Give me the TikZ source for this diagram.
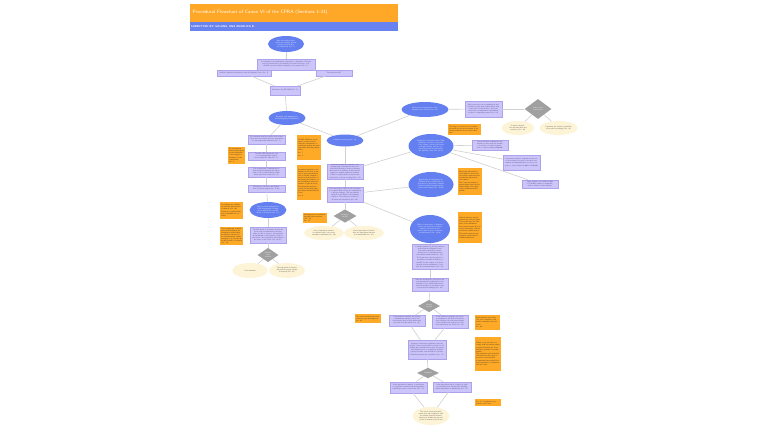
\documentclass[tikz,border=0pt]{standalone}
\usetikzlibrary{shapes.geometric}
\renewcommand{\familydefault}{\sfdefault}
\definecolor{hdr}{RGB}{255,167,38}
\definecolor{hdrB}{RGB}{104,130,240}
\definecolor{ellB}{RGB}{100,128,240}
\definecolor{lav}{RGB}{204,197,250}
\definecolor{lavD}{RGB}{172,162,236}
\definecolor{noteO}{RGB}{255,170,38}
\definecolor{crmY}{RGB}{253,243,214}
\definecolor{diaG}{RGB}{160,160,160}
\definecolor{edgeG}{RGB}{208,208,208}
\definecolor{txtD}{RGB}{70,60,120}
\begin{document}
\begin{tikzpicture}[x=1pt,y=-1pt,
 tx/.style={font=\fontsize{1.7}{2.05}\selectfont, align=center, inner sep=0.5pt},
 ell/.style={tx, ellipse, fill=ellB, text=white},
 box/.style={tx, rectangle, fill=lav, draw=lavD, line width=0.25pt, text=txtD},
 note/.style={tx, rectangle, fill=noteO, text=black!85, align=left, anchor=north west, inner sep=1pt},
 dia/.style={tx, diamond, fill=diaG, text=white, inner sep=0pt},
 crm/.style={tx, ellipse, fill=crmY, text=black!75},
 ln/.style={draw=edgeG, line width=0.6pt}]
\useasboundingbox (0,0) rectangle (768,431);
\fill[white] (0,0) rectangle (768,431);
% header
\fill[hdr] (190,4) rectangle (398,22);
\fill[hdrB] (190,22) rectangle (398,30.5);
\node[anchor=west, text=white, inner sep=0, font=\fontsize{4.75}{5}\selectfont] (title) at (192.5,12.5) {Procedural Flowchart of Canon VI of the CPRA (Sections 1-33)};
\node[anchor=west, text=white, inner sep=0, font=\fontsize{2.75}{3}\selectfont\bfseries] (sub) at (191,26.2) {SUBMITTED BY: GALANG, ANA ANGELICA B.};

% top part
\node[ell, minimum width=36, minimum height=16, text width=24] (e1) at (286,44) {Who may institute disciplinary proceedings against lawyers and how they are commenced (Sec. 1)};
\node[box, minimum width=58, minimum height=10.5, text width=55] (b1) at (286,64.5) {Proceedings for the disbarment, suspension or discipline of lawyers may be commenced by the Supreme Court motu proprio, or by the IBP upon the verified complaint of any person (Sec. 1).};
\node[box, minimum width=54, minimum height=6, text width=51] (b2) at (244,73) {Verified complaint filed directly with the Supreme Court (Sec. 2)};
\node[box, minimum width=36, minimum height=6, text width=33] (b3) at (334,73) {Filed with the IBP};
\node[box, minimum width=30, minimum height=8.5, text width=27] (b4) at (285,90.5) {Referral to the IBP-CBD (Sec. 3)};
\node[ell, minimum width=37, minimum height=14, text width=25] (e2) at (287,118) {Docketing and assignment to the Investigating Commissioner};

% left column
\node[box, minimum width=37, minimum height=9, text width=34] (b5) at (266.5,139.5) {The complaint shall be verified, filed in three copies and state clearly the facts complained of, with supporting affidavits (Sec. 3).};
\node[box, minimum width=37, minimum height=8, text width=34] (b6) at (266.5,156) {The IBP-CBD assigns the case to an Investigating Commissioner within five days (Sec. 5).};
\node[box, minimum width=37, minimum height=10, text width=34] (b7) at (266.5,172) {The Investigating Commissioner issues summons requiring the respondent to file a verified answer within thirty days from receipt (Sec. 6).};
\node[box, minimum width=37, minimum height=7, text width=34] (b8) at (266.5,188.5) {Mandatory conference and submission of position papers (Sec. 8-10).};
\node[ell, minimum width=36, minimum height=16, text width=25] (e3) at (268,210) {Report and recommendation of the Investigating Commissioner submitted to the IBP Board of Governors (Sec. 13)};
\node[box, minimum width=36, minimum height=16, text width=33] (b9) at (268,235) {The IBP Board of Governors reviews the report and recommendation and may adopt, modify or reject it. Its resolution is transmitted to the Supreme Court for final action. No resolution is final without the action of the Court (Sec. 14-15).};
\node[dia, minimum width=21, minimum height=10, text width=9] (d1) at (268,255) {Supreme Court decision};
\node[crm, minimum width=35, minimum height=15, text width=24] (c1) at (250,270.5) {Case dismissed};
\node[crm, minimum width=36, minimum height=15, text width=24] (c2) at (287,270.5) {The respondent is found liable and the proper penalty is imposed (Sec. 33)};

% notes left
\node[note, minimum width=17, minimum height=17, text width=15] (n1) at (228,147) {No investigation shall be interrupted by the withdrawal of the charges or desistance of the complainant. \\[0.6pt] Sec. 4};
\node[note, minimum width=23, minimum height=17, text width=21] (n2) at (220,202) {Proceedings are confidential until the final decision is rendered (Sec. 20). \\[0.6pt] Violation of confidentiality may be punished as contempt.};
\node[note, minimum width=23, minimum height=17, text width=21] (n3) at (220,227) {The Investigating Commissioner shall terminate the investigation within three months from the date of its commencement, unless extended for good cause by the IBP Board of Governors (Sec. 12).};
\node[note, minimum width=24, minimum height=25, text width=22] (n4) at (297,135) {The IBP-CBD may, motu proprio or upon motion, order the consolidation of complaints against the same respondent involving related issues. \\[0.6pt] Sec. 7 \\[0.6pt] Sec. 8};
\node[note, minimum width=24, minimum height=35, text width=22] (n5) at (297,165) {Preventive suspension: the Supreme Court may, on its own or upon recommendation of the IBP, suspend a lawyer from the practice of law during the pendency of the investigation when the evidence of guilt is strong. \\[0.6pt] The suspension shall not exceed one hundred eighty days unless extended by the Court. \\[0.6pt] Sec. 9};
\node[note, minimum width=24, minimum height=9, text width=22] (n6) at (303,213) {Hearings may be conducted through videoconference (Sec. 11). \\ Sec. 12};

% middle column
\node[ell, minimum width=36, minimum height=12, text width=25] (e4) at (345,140.5) {Clarificatory hearing (Sec. 11)};
\node[box, minimum width=36, minimum height=15, text width=33] (b10) at (345,171.5) {After the mandatory conference, the Investigating Commissioner may set a clarificatory hearing if there are matters that need to be clarified. Parties may be required to submit additional evidence. Failure to appear shall not prevent the continuation of the proceedings (Sec. 11).};
\node[box, minimum width=36, minimum height=15, text width=33] (b11) at (345,194.5) {The respondent's failure to file an answer or to appear shall not bar the continuation of the proceedings. The case shall be resolved on the basis of the available evidence. The parties are notified of all orders and resolutions (Sec. 10).};
\node[dia, minimum width=23, minimum height=10, text width=10] (d2) at (345,216) {Finding of the IBP};
\node[crm, minimum width=38, minimum height=14, text width=27] (c3) at (324,233) {If the complaint is found to be without merit, it is recommended for dismissal (Sec. 16)};
\node[crm, minimum width=38, minimum height=14, text width=27] (c4) at (364,233) {If the respondent is found liable, the appropriate sanction is recommended (Sec. 33)};

% right upper
\node[ell, minimum width=46, minimum height=15, text width=32] (e5) at (425,109.5) {Motion for reconsideration of the Supreme Court decision (Sec. 18)};
\node[box, minimum width=37, minimum height=16, text width=34] (b12) at (483.5,109) {Only one motion for reconsideration may be filed by either party within fifteen days from notice of the decision. A second motion for reconsideration is prohibited, except for compelling reasons (Sec. 18).};
\node[dia, minimum width=27, minimum height=20, text width=12] (d3) at (538,109) {Is the motion meritorious?};
\node[crm, minimum width=32, minimum height=14, text width=22] (c5) at (518,128) {If denied, the decision becomes final and executory (Sec. 19)};
\node[crm, minimum width=37, minimum height=14, text width=26] (c6) at (558.5,128) {If granted, the decision is modified or set aside accordingly (Sec. 18)};
\node[note, minimum width=33, minimum height=11, text width=31] (n7) at (448,124) {The filing of a motion for reconsideration shall not stay the execution of the penalty unless the Court orders otherwise.};

\node[ell, minimum width=45, minimum height=24, text width=30] (e6) at (431,146) {Penalties for violations of the CPRA, classified according to the gravity of the offense: serious, less serious and light offenses, with the corresponding sanctions imposed by the Supreme Court (Sec. 32-33)};
\node[box, minimum width=36, minimum height=10, text width=33] (b13) at (490,145) {Serious offenses: disbarment, suspension for more than six months, revocation of notarial commission or a fine exceeding P100,000.};
\node[box, minimum width=37, minimum height=15, text width=34] (b14) at (521.5,162.5) {Less serious offenses: suspension from one to six months, revocation of notarial commission and disqualification for one to two years, or a fine within P35,000 to P100,000.};
\node[box, minimum width=36, minimum height=8, text width=33] (b15) at (540,184) {Light offenses: fine within P1,000 to P35,000, censure or reprimand, with or without a stern warning.};
\node[ell, minimum width=45, minimum height=25, text width=30] (e7) at (431,184.5) {Aggravating and mitigating circumstances are considered in the imposition of the penalty; multiple violations result in separate penalties for each offense (Sec. 38-40)};
\node[note, minimum width=24, minimum height=27, text width=22] (n8) at (458,168) {Where the respondent is found liable for more than one offense, separate penalties shall be imposed for each offense. \\[0.6pt] The Court may impose a penalty higher than the prescribed range when aggravating circumstances are present.};

\node[ell, minimum width=40, minimum height=28, text width=27] (e8) at (430,229) {Effect of the penalty: a disbarred lawyer may petition for judicial clemency; the petition is resolved based on proof of remorse and reformation (Sec. 41-42)};
\node[note, minimum width=24, minimum height=31, text width=22] (n9) at (458,212) {Judicial clemency may be granted only after the lapse of five years from the effectivity of the disbarment. \\[0.6pt] The petitioner must show remorse, reformation, and the potential for public service. \\[0.6pt] The petition must be supported by testimonials of credible institutions.};
\node[box, minimum width=36, minimum height=25, text width=33] (b16) at (430,257) {A verified petition for judicial clemency is filed with the Supreme Court. The petition shall be accompanied by proof of reformation and the required testimonials (Sec. 42). \\[1pt] The Court may refer the petition to the Office of the Bar Confidant or the IBP for the conduct of an investigation and the submission of a report and recommendation (Sec. 43).};
\node[box, minimum width=36, minimum height=13, text width=33] (b17) at (430,284.5) {After the investigation, the report and recommendation is submitted to the Supreme Court, which shall then resolve the petition on the basis of the records and the findings (Sec. 44).};
\node[dia, minimum width=22, minimum height=10, text width=9] (d4) at (429,306) {Petition resolved};
\node[note, minimum width=26, minimum height=9, text width=24] (n10) at (355,314) {The decision shall be final and executory upon promulgation. \\ Sec. 45};
\node[box, minimum width=36, minimum height=11, text width=33] (b18) at (407,320.5) {If the petition is denied, the penalty of disbarment remains, and no further petition may be filed earlier than two years from the denial (Sec. 45).};
\node[box, minimum width=36, minimum height=13, text width=33] (b19) at (450,321.5) {If the petition is granted, the lawyer is reinstated to the Roll of Attorneys upon taking a new oath and payment of the required fees, subject to conditions imposed by the Court (Sec. 45).};
\node[note, minimum width=25, minimum height=15, text width=23] (n11) at (475,315) {Reinstatement takes effect only upon compliance with all the conditions set by the Court. \\[0.6pt] Sec. 46};
\node[box, minimum width=38, minimum height=19, text width=35] (b20) at (427,349.5) {Payment of fines and compliance with the penalty: fines are paid within a period not exceeding three months from notice; the respondent submits proof of compliance with the penalty imposed, and the Office of the Bar Confidant monitors the compliance (Sec. 37).};
\node[note, minimum width=26, minimum height=34, text width=24] (n12) at (475,337) {Failure to pay the fine or to comply with the penalty within the period fixed by the Court shall be a ground for a further penalty. \\[0.6pt] The suspension period shall be reckoned from the receipt of the notice of the decision. \\[0.6pt] A suspended lawyer shall file a sworn statement of compliance with the Court.};
\node[dia, minimum width=22, minimum height=10, text width=9] (d5) at (428,373) {Complied?};
\node[box, minimum width=37, minimum height=11, text width=34] (b21) at (408.5,387.5) {If the respondent complies, a certification of compliance is issued and the suspension is lifted upon order of the Court (Sec. 37).};
\node[box, minimum width=38, minimum height=10, text width=35] (b22) at (452,387) {If the respondent fails to comply, an additional penalty may be imposed, including further suspension or disbarment (Sec. 37).};
\node[note, minimum width=26, minimum height=7, text width=24] (n13) at (475,399) {Sec. 37: Compliance is reported to the Court.};
\node[crm, minimum width=36, minimum height=18, text width=25] (c7) at (431,416) {The case is closed and terminated upon full compliance with the penalty imposed and the lawyer may resume the practice of law as ordered by the Court};

% connectors
\draw[ln] (e1) -- (b1);
\draw[ln] (b1) -- (b2);
\draw[ln] (b1) -- (b3);
\draw[ln] (b2) -- (b4);
\draw[ln] (b3) -- (b4);
\draw[ln] (b4) -- (e2);
\draw[ln] (e2) -- (b5);
\draw[ln] (e2) -- (e4);
\draw[ln] (b5) -- (b6);
\draw[ln] (b6) -- (b7);
\draw[ln] (b7) -- (b8);
\draw[ln] (b8) -- (e3);
\draw[ln] (e3) -- (b9);
\draw[ln] (b9) -- (d1);
\draw[ln] (d1) -- (c1);
\draw[ln] (d1) -- (c2);
\draw[ln] (e4) -- (b10);
\draw[ln] (b10) -- (b11);
\draw[ln] (b11) -- (d2);
\draw[ln] (d2) -- (c3);
\draw[ln] (d2) -- (c4);
\draw[ln] (e4) -- (e5);
\draw[ln] (b10) -- (e6);
\draw[ln] (b11) -- (e7);
\draw[ln] (b11) -- (e8);
\draw[ln] (e5) -- (b12);
\draw[ln] (b12) -- (d3);
\draw[ln] (d3) -- (c5);
\draw[ln] (d3) -- (c6);
\draw[ln] (e6) -- (b13);
\draw[ln] (e6) -- (b14);
\draw[ln] (e6) -- (b15);
\draw[ln] (e8) -- (b16);
\draw[ln] (b16) -- (b17);
\draw[ln] (b17) -- (d4);
\draw[ln] (d4) -- (b18);
\draw[ln] (d4) -- (b19);
\draw[ln] (b18) -- (b20);
\draw[ln] (b19) -- (b20);
\draw[ln] (b20) -- (d5);
\draw[ln] (d5) -- (b21);
\draw[ln] (d5) -- (b22);
\draw[ln] (b21) -- (c7);
\draw[ln] (b22) -- (c7);
\end{tikzpicture}
\end{document}
